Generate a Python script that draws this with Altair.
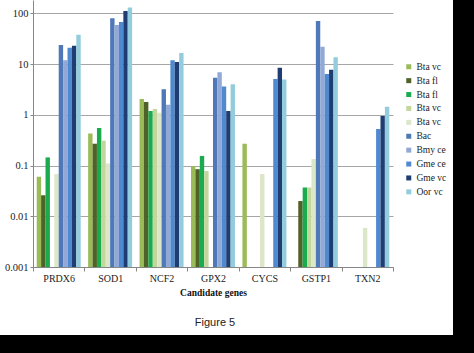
import altair as alt
import pandas as pd

genes = ["PRDX6", "SOD1", "NCF2", "GPX2", "CYCS", "GSTP1", "TXN2"]
series_labels = ["Bta vc", "Bta fl", "Bta fl", "Bta vc", "Bta vc",
                 "Bac", "Bmy ce", "Gme ce", "Gme vc", "Oor vc"]
colors = ["#9bbb59", "#4f6228", "#1aab4f", "#c3d69b", "#dce6c8",
          "#4f78b8", "#92a9d6", "#4f8ad0", "#1f3d73", "#93cddd"]

bta_vc_1 = [0.06, 0.43, 2.05, 0.098, 0.27, None, None]
bta_fl_1 = [0.026, 0.27, 1.8, 0.085, None, 0.02, None]
bta_fl_2 = [0.145, 0.55, 1.2, 0.155, None, 0.037, None]
bta_vc_2 = [None, 0.31, 1.3, 0.078, None, 0.037, None]
bta_vc_3 = [0.068, 0.11, 1.1, None, 0.068, 0.135, 0.0059]
bac = [24, 81, 3.2, 5.4, None, 71, None]
bmy_ce = [12, 59, 1.58, 6.9, None, 22, None]
gme_ce = [21, 68, 12, 3.65, 5.1, 6.4, 0.53]
gme_vc = [23, 112, 11, 1.2, 8.5, 7.8, 0.95]
oor_vc = [38, 132, 16.6, 4.0, 5.0, 13.7, 1.44]

series_values = [bta_vc_1, bta_fl_1, bta_fl_2, bta_vc_2, bta_vc_3,
                 bac, bmy_ce, gme_ce, gme_vc, oor_vc]
keys = [f"{i}|{lab}" for i, lab in enumerate(series_labels)]

rows = []
for key, vals in zip(keys, series_values):
    for g, v in zip(genes, vals):
        if v is not None:
            rows.append({"gene": g, "key": key, "value": v, "base": 0.001})
df = pd.DataFrame(rows)

serif = "Liberation Serif"

bars = alt.Chart(df).mark_bar().encode(
    x=alt.X("gene:N", sort=genes, title="Candidate genes",
            scale=alt.Scale(paddingInner=0, paddingOuter=0),
            axis=alt.Axis(tickBand="extent", labelAngle=0, labelFont=serif,
                          labelFontSize=10, labelPadding=2, tickSize=4,
                          titleFont=serif, titleFontSize=9.5, titleFontWeight="bold",
                          titlePadding=4, domainColor="#868686", tickColor="#868686",
                          labelColor="#222", titleColor="#111")),
    xOffset=alt.XOffset("key:N", sort=keys,
                        scale=alt.Scale(paddingOuter=0.845, paddingInner=0)),
    y=alt.Y("value:Q", title=None,
            scale=alt.Scale(type="log", domain=[0.001, 184.6], nice=False),
            axis=alt.Axis(values=[0.001, 0.01, 0.1, 1, 10, 100], format="~g",
                          labelFont=serif, labelFontSize=10.5, labelPadding=2,
                          tickSize=3, grid=True, gridColor="#a6a6a6",
                          domainColor="#868686", tickColor="#868686",
                          labelColor="#222")),
    y2=alt.Y2("base:Q"),
    color=alt.Color("key:N", sort=keys,
                    scale=alt.Scale(domain=keys, range=colors),
                    legend=alt.Legend(orient="none", legendX=371, legendY=62,
                                      title=None, symbolType="square",
                                      symbolSize=25, symbolStrokeWidth=0,
                                      labelFont=serif, labelFontSize=9.5,
                                      labelColor="#222", rowPadding=2.9,
                                      labelOffset=3,
                                      labelExpr="split(datum.label, '|')[1]")),
)

caption = alt.Chart(alt.Data(values=[{"t": "Figure 5"}])).mark_text(
    font="Liberation Sans", fontSize=11, color="#222", align="center", baseline="middle"
).encode(x=alt.value(182), y=alt.value(323), text="t:N")

border_right = alt.Chart(alt.Data(values=[{"a": 1}])).mark_rect(color="black").encode(
    x=alt.value(420), x2=alt.value(460), y=alt.value(-5), y2=alt.value(360))
border_bottom = alt.Chart(alt.Data(values=[{"a": 1}])).mark_rect(color="black").encode(
    x=alt.value(-40), x2=alt.value(460), y=alt.value(335), y2=alt.value(360))

chart = alt.layer(bars, caption, border_right, border_bottom).properties(
    width=360, height=267,
    autosize=alt.AutoSizeParams(type="none"),
    padding={"left": 33, "top": 0, "right": 81, "bottom": 86},
    background="white",
).configure_view(stroke=None)

chart.save("out.html", embed_options={"renderer": "svg", "actions": False})
